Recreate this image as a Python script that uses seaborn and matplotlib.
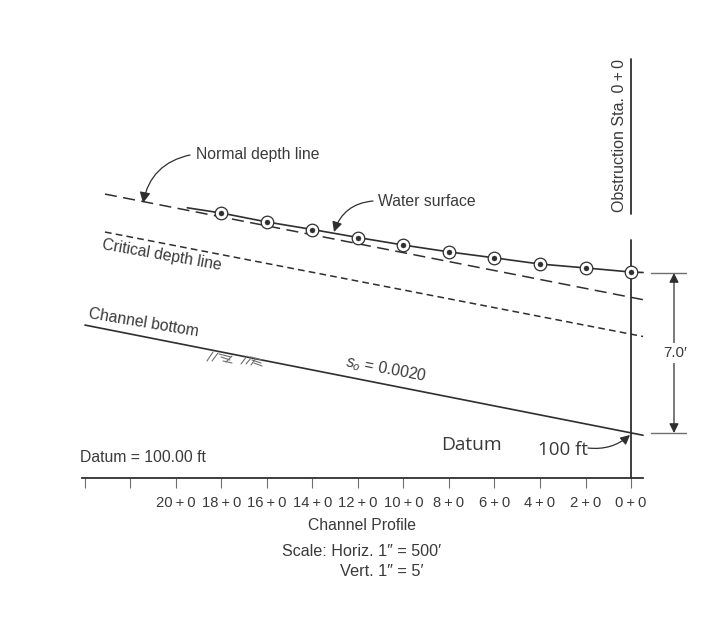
import matplotlib
matplotlib.use("Agg")
import matplotlib.pyplot as plt
import pandas as pd
import seaborn as sns

# ---- data (station in 100 ft units, elevation in ft) ----
marker_stations = [18, 16, 14, 12, 10, 8, 6, 4, 2, 0]
marker_elev = [109.62, 109.23, 108.90, 108.55, 108.22, 107.92, 107.66, 107.39, 107.22, 107.04]
surface_start_station = [19.5]
surface_start_elev = [109.85]
normal_stations = [23.12, -0.53]
normal_elev = [110.45, 105.83]
critical_stations = [23.12, -0.53]
critical_elev = [108.79, 104.22]
bottom_stations = [24.0, -0.53]
bottom_elev = [104.72, 99.90]
tick_stations = [24, 22, 20, 18, 16, 14, 12, 10, 8, 6, 4, 2, 0]
tick_labels = ["", ""] + [f"{s}\u2009+\u20090" for s in [20, 18, 16, 14, 12, 10, 8, 6, 4, 2, 0]]
obstruction_low = [98.03, 108.42]
obstruction_high = [109.56, 116.38]

W, H = 718, 634
INK = "#2f2f2f"
TXT = "#3a3a3a"
GREY = "#6e6e6e"
SZ = 11.3

sns.set_theme(style="white")
plt.rcParams["font.family"] = ["Liberation Sans", "DejaVu Sans"]
plt.rcParams["mathtext.fontset"] = "custom"
plt.rcParams["mathtext.it"] = "Liberation Sans:italic"
plt.rcParams["mathtext.rm"] = "Liberation Sans"

fig = plt.figure(figsize=(W / 100, H / 100), dpi=100, facecolor="white")
ax = fig.add_axes([82 / W, (H - 478) / H, (643 - 82) / W, 478 / H])
ax.set_xlim(24.13, -0.527)
ax.set_ylim(98.03, 118.94)
ax.patch.set_alpha(0)


def fp(x, y):
    return (x / W, (H - y) / H)


def line(xs, ys, lw=1.4, color=INK, ls="-"):
    sns.lineplot(x=xs, y=ys, ax=ax, color=color, lw=lw, linestyle=ls,
                 estimator=None, sort=False, legend=False, clip_on=False)


# channel profile lines
line(bottom_stations, bottom_elev, lw=1.2)
line(normal_stations, normal_elev, lw=1.1, ls=(0, (7.9, 4.2)))
line(critical_stations, critical_elev, lw=1.1, ls=(0, (4.4, 2.75)))
line(surface_start_station + marker_stations + [-0.53],
     surface_start_elev + marker_elev + [107.02], lw=1.2)

# obstruction
line([0, 0], obstruction_low, lw=1.3)
line([0, 0], obstruction_high, lw=1.3)

# water-surface markers
df = pd.DataFrame({"station": marker_stations, "elev": marker_elev})
sns.scatterplot(data=df, x="station", y="elev", ax=ax, s=82, color="white",
                edgecolor=INK, linewidth=0.9, zorder=5, clip_on=False)
sns.scatterplot(data=df, x="station", y="elev", ax=ax, s=13, color=INK,
                edgecolor=INK, linewidth=0.3, zorder=6, clip_on=False)

# axis
for s in ("left", "top", "right"):
    ax.spines[s].set_visible(False)
ax.spines["bottom"].set_color(INK)
ax.spines["bottom"].set_linewidth(1.3)
ax.set_yticks([])
ax.set_xticks(tick_stations)
ax.set_xticklabels(tick_labels, fontsize=10.6, color=TXT)
ax.tick_params(axis="x", bottom=True, direction="out", length=7.5, width=0.8, color=GREY, pad=5.5)
ax.set_xlabel("Channel Profile", fontsize=SZ, color=TXT, labelpad=5.5)
ax.set_ylabel("")

# hatch under channel bottom (decorative ground symbol)
for (x0, y0, x1, y1) in [(207, 361, 213, 352), (212, 361, 218, 353), (219, 354, 231, 357), (221, 357, 230, 360),
                         (223, 361, 232, 363), (232, 356, 226, 362), (241, 364, 247, 356), (246, 364, 252, 357),
                         (250, 357, 262, 360), (252, 360, 261, 363), (254, 363, 262, 366), (256, 358, 251, 365)]:
    fig.add_artist(plt.Line2D([x0 / W, x1 / W], [(H - y0) / H, (H - y1) / H], color=GREY, lw=0.8))

# dimension lines
for y in (273, 433):
    fig.add_artist(plt.Line2D([651 / W, 686 / W], [(H - y) / H] * 2, color=GREY, lw=1.0))


def arrow(start, end, rad=0.0, color=INK, lw=0.9, ms=13):
    ax.annotate("", xy=fp(*end), xytext=fp(*start), xycoords="figure fraction",
                textcoords="figure fraction", annotation_clip=False,
                arrowprops=dict(arrowstyle="-|>", mutation_scale=ms, color=color, lw=lw,
                                shrinkA=0, shrinkB=0, connectionstyle=f"arc3,rad={rad}"))


arrow((674, 353), (674, 273), ms=14)
arrow((674, 353), (674, 433), ms=14)
arrow((190, 155), (143, 203), rad=0.33, ms=16)
arrow((373, 201), (334, 232), rad=0.33, ms=15)
arrow((588, 448), (630, 435), rad=0.22, ms=14)


def label(x, y, s, size=SZ, rot=0, family=None, ha="center", **kw):
    x_, y_ = fp(x, y)
    fig.text(x_, y_, s, fontsize=size, rotation=rot, ha=ha, va="center", color=TXT,
             rotation_mode="anchor", family=family or ["Liberation Sans", "DejaVu Sans"], **kw)


label(257.5, 155, "Normal depth line")
label(426.5, 201, "Water surface")
label(162, 255.5, "Critical depth line", rot=-10)
label(143.5, 323, "Channel bottom", rot=-9.5)
label(386, 369.5, r"$s_o$ = 0.0020", rot=-10.5)
label(142.5, 457, "Datum = 100.00 ft")
label(471, 445.5, "Datum", size=13.8, family=["Open Sans", "DejaVu Sans"])
label(563, 450, "100 ft", size=13.5, family=["Open Sans", "DejaVu Sans"])
label(620, 135, "Obstruction Sta. 0\u2009+\u20090", size=11.5, rot=90)
label(675, 353, "7.0\u2032", size=10.8, bbox=dict(fc="white", ec="none", pad=2), zorder=5)
label(361.5, 551, "Scale: Horiz. 1\u2033 = 500\u2032", size=11.6)
label(381.5, 572, "Vert. 1\u2033 = 5\u2032", size=11.8)

fig.savefig("out.png", dpi=100, facecolor="white")
